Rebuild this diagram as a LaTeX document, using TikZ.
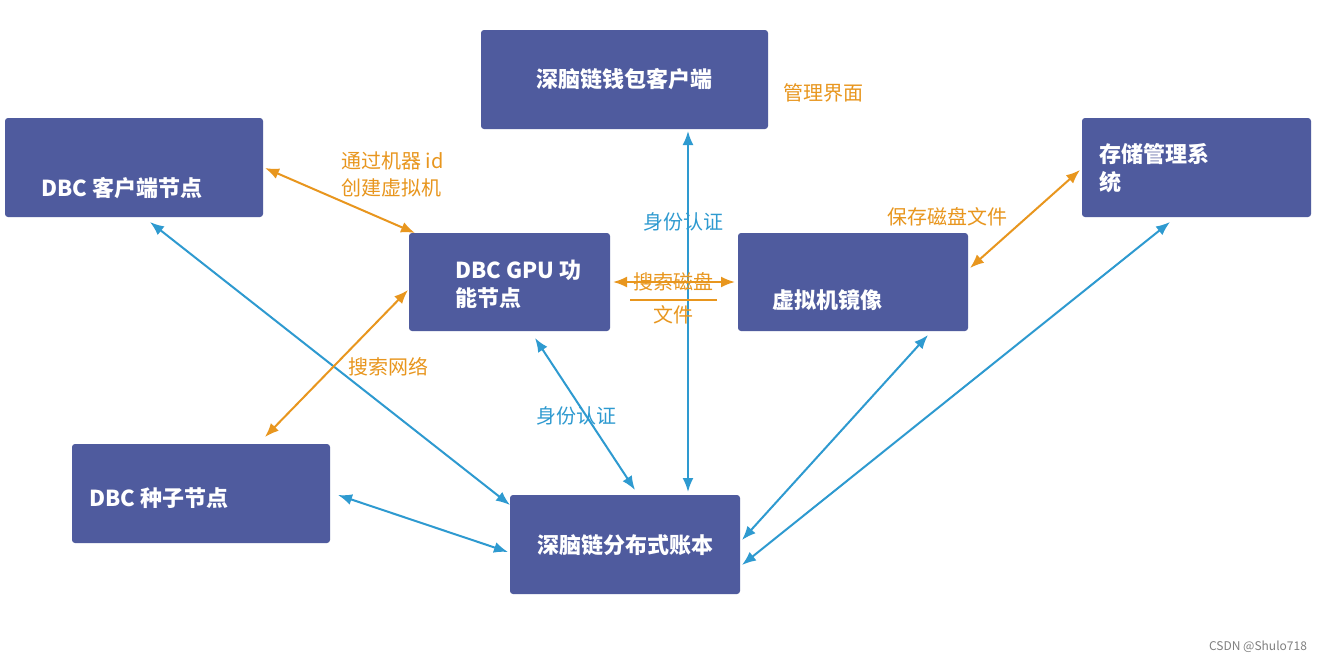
\documentclass[tikz,border=0pt]{standalone}
\usepackage{fontspec}
\setmainfont{Noto Sans CJK SC}
\usetikzlibrary{arrows.meta}
\definecolor{boxc}{HTML}{4F5B9E}
\definecolor{orc}{HTML}{E8961E}
\definecolor{blc}{HTML}{2E9AD0}
\begin{document}
\begin{tikzpicture}[x=1pt,y=-1pt,
 box/.style={fill=boxc,draw=none,rounded corners=3pt},
 bt/.style={text=white,font=\fontsize{22}{28}\selectfont\bfseries,align=left},
 lo/.style={text=orc,font=\fontsize{20}{27}\selectfont,align=left},
 lb/.style={text=blc,font=\fontsize{20}{27}\selectfont},
 oa/.style={draw=orc,line width=2pt,{Latex[length=14pt,width=11pt]}-{Latex[length=14pt,width=11pt]}},
 ba/.style={draw=blc,line width=2pt,{Latex[length=14pt,width=11pt]}-{Latex[length=14pt,width=11pt]}}]
\useasboundingbox[fill=white] (0,0) rectangle (1328,662);
\fill[box] (481,30) rectangle (768,129) node[bt,midway] (wallet) {深脑链钱包客户端};
\fill[box] (5,118) rectangle (263,217);
\node[bt,anchor=west] (client) at (38,188) {DBC 客户端节点};
\fill[box] (1082,118) rectangle (1311,217);
\node[bt,anchor=north west] (storage) at (1096,140) {存储管理系\\统};
\fill[box] (409,233) rectangle (610,331);
\node[bt,anchor=west] (gpu) at (452,284) {DBC GPU 功\\能节点};
\fill[box] (738,233) rectangle (968,331);
\node[bt] (vm) at (827,300) {虚拟机镜像};
\fill[box] (72,444) rectangle (330,543);
\node[bt,anchor=west] (seed) at (86,498) {DBC 种子节点};
\fill[box] (510,495) rectangle (740,594);
\node[bt] (ledger) at (625,545) {深脑链分布式账本};
% endpoints
\foreach \n/\x/\y in {c1/265/168, g1/415/233, g2/408/290, s1/265/437, g3/613/282, v1/735/282,
 v2/970/268, st1/1080/170, w1/688/131, l1/688/492, c2/150/222, l2/510/505, g4/535/338, l3/635/490,
 s2/338/495, l4/508/552, v3/928/335, l5/742/540, st2/1170/222, l6/742/565}
 \coordinate (\n) at (\x,\y);
\draw[ba] (w1) -- (l1);
\draw[ba] (c2) -- (l2);
\draw[ba] (g4) -- (l3);
\draw[ba] (s2) -- (l4);
\draw[ba] (v3) -- (l5);
\draw[ba] (st2) -- (l6);
\draw[oa] (c1) -- (g1);
\draw[oa] (g2) -- (s1);
\draw[oa] (g3) -- (v1);
\draw[oa] (v2) -- (st1);
\node[lo] (t1) at (823,93) {管理界面};
\node[lo,anchor=west] (t2) at (338,174) {通过机器 id\\创建虚拟机};
\node[lb] (t3) at (683,222) {身份认证};
\node[lo] (t4) at (673,282) {搜索磁盘};
\draw[orc,line width=1.5pt] (630,300) -- (717,300);
\node[lo] (t5) at (673,315) {文件};
\node[lo] (t6) at (947,217) {保存磁盘文件};
\node[lo] (t7) at (388,367) {搜索网络};
\node[lb] (t8) at (576,416) {身份认证};
\node[text=gray,font=\fontsize{12}{14}\selectfont] (t9) at (1258,647) {CSDN @Shulo718};
\end{tikzpicture}
\end{document}
